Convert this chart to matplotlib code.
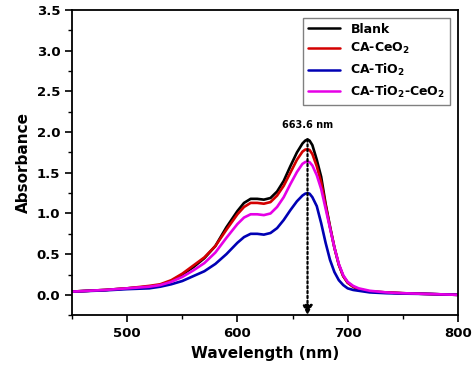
import matplotlib.pyplot as plt
from matplotlib.ticker import MultipleLocator

wavelength = [450, 480, 500, 520, 530, 540, 550, 560, 570, 580, 590, 600, 606, 612, 618,
              624, 630, 636, 642, 648, 654, 659, 661.5, 663.6, 665.5, 668, 672, 676, 680, 684,
              688, 692, 696, 700, 705, 710, 720, 735, 750, 775, 800]

blank = [0.04, 0.06, 0.08, 0.10, 0.12, 0.17, 0.25, 0.34, 0.45, 0.60, 0.83, 1.03, 1.13, 1.18, 1.18,
         1.17, 1.19, 1.27, 1.40, 1.58, 1.75, 1.86, 1.895, 1.91, 1.895, 1.84, 1.66, 1.45, 1.12, 0.84,
         0.58, 0.37, 0.23, 0.15, 0.10, 0.07, 0.04, 0.03, 0.02, 0.01, 0.0]

ca_ceo2 = [0.04, 0.06, 0.08, 0.11, 0.13, 0.18, 0.26, 0.36, 0.46, 0.60, 0.80, 0.99, 1.08, 1.13, 1.13,
           1.12, 1.14, 1.22, 1.34, 1.50, 1.66, 1.76, 1.785, 1.79, 1.78, 1.73, 1.58, 1.38, 1.10, 0.83,
           0.58, 0.37, 0.23, 0.15, 0.10, 0.07, 0.04, 0.03, 0.02, 0.01, 0.0]

ca_tio2 = [0.04, 0.055, 0.07, 0.08, 0.10, 0.13, 0.17, 0.23, 0.29, 0.38, 0.50, 0.64, 0.71, 0.75, 0.75,
           0.74, 0.76, 0.82, 0.92, 1.04, 1.15, 1.22, 1.243, 1.25, 1.243, 1.20, 1.09, 0.88, 0.64, 0.43,
           0.28, 0.18, 0.12, 0.08, 0.06, 0.05, 0.03, 0.02, 0.015, 0.01, 0.0]

ca_tio2_ceo2 = [0.04, 0.06, 0.08, 0.10, 0.12, 0.16, 0.22, 0.30, 0.39, 0.52, 0.70, 0.87, 0.95, 0.99, 0.99,
                0.98, 1.00, 1.08, 1.20, 1.36, 1.51, 1.61, 1.632, 1.64, 1.63, 1.59, 1.47, 1.30, 1.06, 0.82,
                0.58, 0.38, 0.24, 0.16, 0.11, 0.08, 0.05, 0.03, 0.02, 0.01, 0.0]

labels = ['Blank', r'CA-CeO$_\mathbf{2}$', r'CA-TiO$_\mathbf{2}$', r'CA-TiO$_\mathbf{2}$-CeO$_\mathbf{2}$']
colors = ['black', '#d40000', '#0000b4', '#e600e6']
peak_wl = 663.6
peak_abs = 1.91

fig = plt.figure(figsize=(4.74, 3.73), dpi=100)
ax = fig.add_axes([0.152, 0.155, 0.814, 0.818])

for y, lab, c in zip([blank, ca_ceo2, ca_tio2, ca_tio2_ceo2], labels, colors):
    ax.plot(wavelength, y, color=c, lw=1.9, label=lab,
            solid_joinstyle='round', solid_capstyle='round')

# dotted arrow marking the peak
ax.annotate('', xy=(peak_wl, -0.25), xytext=(peak_wl, peak_abs),
            arrowprops=dict(arrowstyle='-|>', linestyle=(0, (1, 1.2)), color='black',
                            lw=1.6, mutation_scale=14, shrinkA=0, shrinkB=0))
ax.text(peak_wl, 2.03, '663.6 nm', ha='center', va='bottom', fontsize=7, fontweight='bold')

ax.set_xlim(450, 800)
ax.set_ylim(-0.25, 3.5)
ax.xaxis.set_major_locator(MultipleLocator(100))
ax.xaxis.set_minor_locator(MultipleLocator(50))
ax.yaxis.set_major_locator(MultipleLocator(0.5))
ax.yaxis.set_minor_locator(MultipleLocator(0.25))
ax.yaxis.set_major_formatter(plt.FormatStrFormatter('%.1f'))
ax.tick_params(which='major', direction='out', length=5, width=1.2, labelsize=9.5)
ax.tick_params(which='minor', direction='out', length=3, width=1.0)
ax.tick_params(top=False, right=False)
for lbl in ax.get_xticklabels() + ax.get_yticklabels():
    lbl.set_fontweight('bold')
for s in ax.spines.values():
    s.set_linewidth(1.3)

ax.set_xlabel('Wavelength (nm)', fontsize=11, fontweight='bold')
ax.set_ylabel('Absorbance', fontsize=11, fontweight='bold')

leg = ax.legend(loc='upper right', prop={'weight': 'bold', 'size': 9},
                handlelength=2.6, fancybox=False, framealpha=1, edgecolor='#808080',
                borderaxespad=0.6, labelspacing=0.45)
for line in leg.get_lines():
    line.set_linewidth(1.8)

plt.savefig('out.png', dpi=100)
